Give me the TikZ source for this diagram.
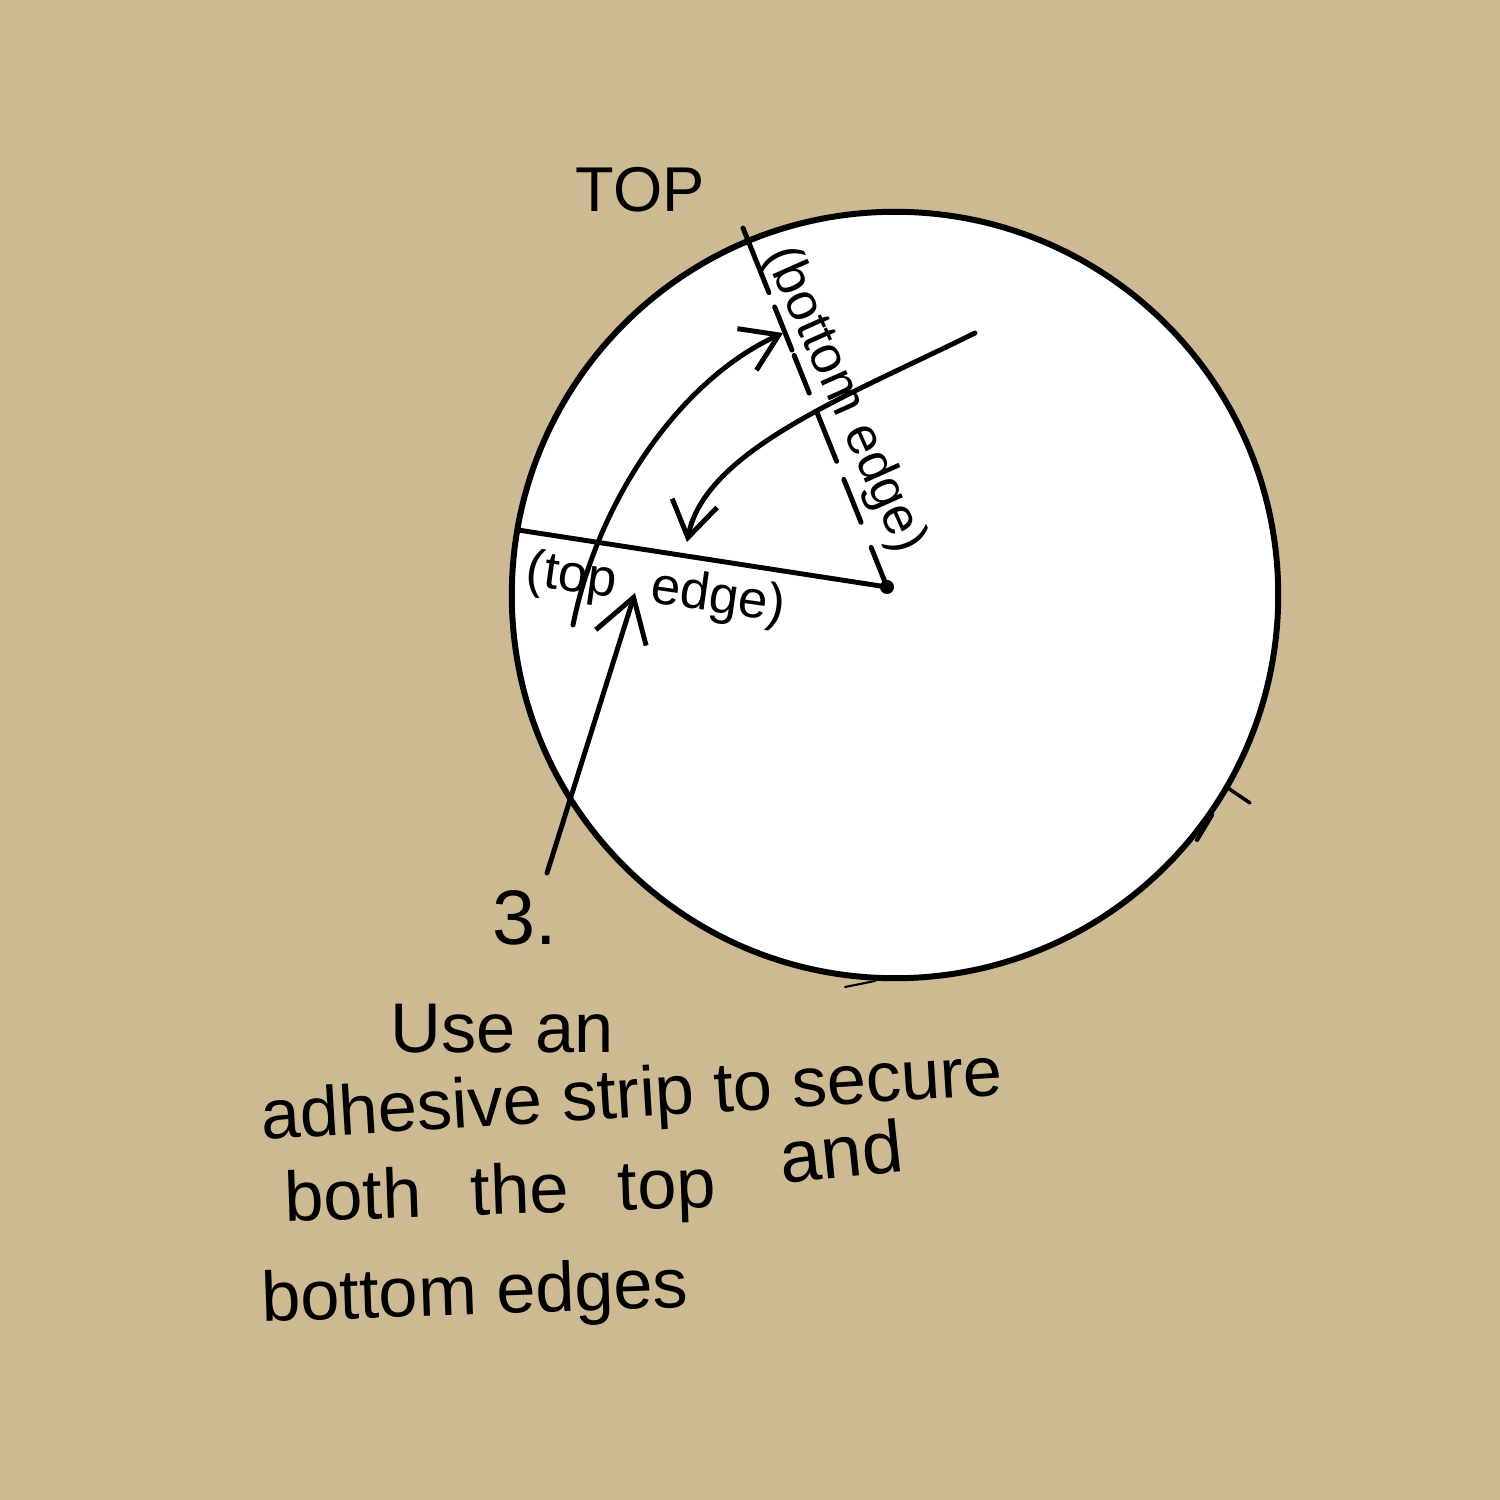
\documentclass[tikz,border=0pt]{standalone}
\usepackage{fontspec}
\setmainfont{Liberation Sans}
\usetikzlibrary{arrows.meta,calc}
\definecolor{kraft}{RGB}{206,186,146}
\begin{document}
\begin{tikzpicture}[x=0.01cm,y=-0.01cm,
  ink/.style={line width=1.4pt, line cap=round, line join=round, draw=black},
  barb/.style={-{Straight Barb[length=10pt,width=13pt,line width=1.4pt]}},
  bigbarb/.style={-{Straight Barb[length=12pt,width=15pt,line width=1.4pt]}},
  hand/.style={font=\fontsize{20}{24}\selectfont, inner sep=0pt, anchor=base west},
  edgelabel/.style={font=\fontsize{15}{18}\selectfont, inner sep=0pt}]
\fill[kraft] (0,0) rectangle (1500,1500);
\useasboundingbox (0,0) rectangle (1500,1500);
% disc
\coordinate (C) at (895,595);
\draw[line width=1.7pt, fill=white] (C) circle [radius=3.83cm];
% radii
\coordinate (O) at (887,587);
\coordinate (TL) at (518,530);
\coordinate (BT) at (743,228);
\draw[ink] (TL) -- (O);
\foreach \a/\b in {0/0.18,0.22/0.34,0.355/0.46,0.51/0.65,0.70/0.82,0.89/1}
  \draw[ink] ($(BT)!\a!(O)$) -- ($(BT)!\b!(O)$);
\fill (O) circle [radius=0.07cm];
% curved arrows
\coordinate (a1s) at (573,625);
\coordinate (a1e) at (783,333);
\draw[ink,barb] (a1s) .. controls (598,500) and (680,380) .. (a1e);
\coordinate (a2s) at (975,333);
\coordinate (a2e) at (687,542);
\draw[ink,barb] (a2s) .. controls (850,395) and (705,450) .. (a2e);
% pointer from step 3
\coordinate (p3s) at (547,873);
\coordinate (p3e) at (635,593);
\draw[ink,bigbarb] (p3s) -- (p3e);
% small marks on the rim
\coordinate (m1a) at (1228,788);
\coordinate (m1b) at (1250,803);
\draw[ink,line width=1pt] (m1a) -- (m1b);
\coordinate (m2a) at (1197,840);
\coordinate (m2b) at (1212,815);
\draw[ink,line width=1.2pt] (m2a) -- (m2b);
\coordinate (m3a) at (845,987);
\coordinate (m3b) at (875,981);
\draw[ink,line width=0.6pt] (m3a) -- (m3b);
% labels
\node[font=\fontsize{18}{20}\selectfont, inner sep=0pt] (top) at (640,190) {TOP};
\node[font=\fontsize{22}{24}\selectfont, inner sep=0pt] (three) at (525,918) {3.};
\node[edgelabel, rotate=-8] (topedge) at (656,590) {(top\hspace{10pt}edge)};
\node[edgelabel, rotate=-66] (botedge) at (844,400) {(bottom edge)};
% instructions
\node[hand] (l1) at (390,1052) {Use an};
\node[hand, rotate=3.5] (l2) at (262,1140) {adhesive strip to secure};
\node[hand, rotate=2] (l3) at (285,1222) {both\hspace{14pt}the\hspace{14pt}top};
\node[hand, rotate=6, font=\fontsize{21}{24}\selectfont] (l3b) at (782,1184) {and};
\node[hand, rotate=2] (l4) at (262,1322) {bottom edges};
\end{tikzpicture}
\end{document}
